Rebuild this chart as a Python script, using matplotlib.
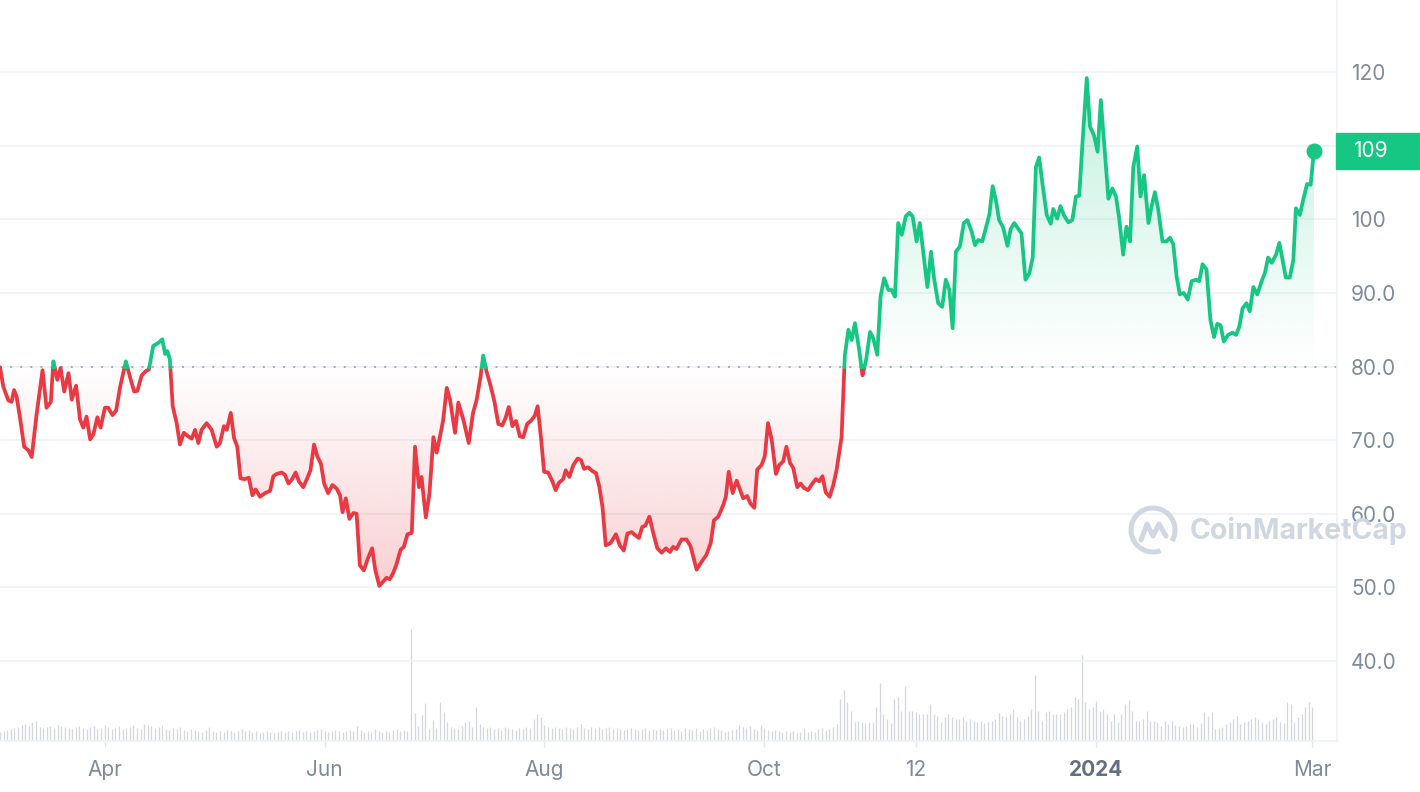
import datetime as dt
import numpy as np
import matplotlib
matplotlib.use("Agg")
from matplotlib import pyplot as plt
import matplotlib.dates as mdates
import matplotlib.colors as mcolors
import matplotlib.transforms as mtransforms
from matplotlib.patches import Rectangle, Arc
from matplotlib.path import Path

plt.rcParams['font.family'] = ['Inter', 'DejaVu Sans']

# ---------------- data ----------------
start = dt.datetime(2023, 3, 3)

# price vertices: days since start, price
day = [0.0, 0.9, 2.3, 3.2, 3.9, 4.6, 5.5, 6.7, 7.9, 8.8,
       10.2, 11.8, 12.9, 14.1, 14.8, 15.9, 16.8, 17.8, 19.0, 19.9,
       21.1, 22.2, 23.1, 24.0, 25.0, 25.9, 27.0, 27.9, 29.1, 30.0,
       31.2, 32.2, 33.3, 34.9, 36.1, 37.2, 38.1, 39.3, 40.5, 41.3,
       42.5, 43.9, 45.0, 45.8, 46.4, 47.1, 47.9, 49.0, 49.9, 51.0,
       52.2, 53.2, 54.1, 55.0, 55.9, 57.3, 58.7, 60.1, 61.0, 62.1,
       62.9, 64.0, 64.9, 65.8, 66.7, 67.9, 69.0, 70.0, 70.9, 72.1,
       73.5, 74.9, 75.8, 76.7, 78.1, 79.0, 80.0, 80.9, 82.0, 82.9,
       84.1, 85.2, 86.1, 87.1, 88.0, 89.0, 89.9, 91.0, 92.2, 93.4,
       94.3, 95.0, 95.9, 96.9, 98.0, 98.9, 99.8, 100.9, 102.0, 103.2,
       104.1, 105.2, 106.3, 107.2, 108.1, 109.1, 110.0, 111.1, 112.0, 113.0,
       114.2, 115.1, 116.2, 116.9, 118.1, 119.1, 120.2, 121.1, 122.0, 122.9,
       123.9, 124.8, 125.2, 126.2, 127.1, 128.5, 130.0, 131.2, 132.2, 133.3,
       134.0, 134.9, 136.1, 137.1, 138.2, 139.3, 140.2, 141.1, 142.1, 143.1,
       144.2, 145.1, 146.2, 147.4, 148.3, 149.1, 150.0, 150.9, 152.0, 153.2,
       154.1, 155.0, 156.2, 156.9, 157.9, 159.0, 160.2, 161.1, 162.0, 163.1,
       164.3, 165.3, 166.2, 167.1, 168.0, 169.3, 170.8, 171.9, 173.0, 174.0,
       175.2, 176.1, 177.2, 178.1, 179.0, 180.1, 181.2, 182.3, 183.5, 184.7,
       185.8, 186.7, 187.6, 189.0, 190.4, 191.5, 193.2, 194.6, 195.9, 197.1,
       198.0, 199.2, 200.6, 201.3, 202.1, 203.2, 204.3, 205.2, 206.1, 207.2,
       208.1, 209.2, 210.0, 211.2, 212.1, 213.0, 214.0, 215.2, 216.1, 217.2,
       218.1, 219.1, 220.0, 221.1, 222.0, 223.0, 224.1, 225.3, 226.3, 227.2,
       228.1, 229.0, 230.1, 231.1, 232.0, 232.7, 233.4, 234.3, 235.3, 236.2,
       237.1, 238.3, 239.2, 240.2, 241.3, 242.2, 243.3, 244.2, 245.2, 246.4,
       247.3, 248.2, 249.1, 250.1, 251.2, 252.2, 253.1, 254.2, 255.1, 256.1,
       257.2, 258.2, 259.1, 260.2, 261.3, 262.3, 263.3, 264.2, 265.1, 266.2,
       267.3, 268.3, 269.5, 270.4, 271.3, 272.4, 273.3, 274.4, 275.3, 276.2,
       277.1, 278.2, 279.4, 280.3, 281.3, 282.4, 283.3, 284.4, 285.5, 286.4,
       287.3, 288.2, 289.2, 290.3, 291.4, 292.1, 293.2, 294.1, 295.1, 296.3,
       297.4, 298.4, 299.3, 300.2, 301.4, 302.3, 303.4, 304.4, 305.3, 306.3,
       307.4, 308.5, 309.5, 310.4, 311.5, 312.4, 313.4, 314.3, 315.4, 316.3,
       317.3, 318.5, 319.4, 320.3, 321.2, 322.4, 323.5, 324.5, 325.4, 326.3,
       327.2, 328.3, 329.4, 330.5, 331.7, 332.6, 333.5, 334.6, 335.7, 336.7,
       337.6, 338.5, 339.4, 340.6, 341.8, 342.8, 343.7, 344.6, 345.7, 346.6,
       347.6, 348.7, 349.9, 350.8, 351.7, 352.7, 353.9, 354.8, 355.7, 356.6,
       357.7, 358.7, 359.4, 360.5, 361.4, 362.5, 363.5, 364.4]

price = [79.9, 77.3, 75.4, 75.2, 76.8, 75.9, 73.2, 69.1, 68.6, 67.7,
         73.7, 79.5, 74.4, 75.2, 80.7, 78.2, 79.8, 76.6, 79.1, 75.5,
         77.4, 72.8, 71.7, 73.2, 70.1, 70.8, 73.1, 71.7, 74.4, 74.4,
         73.4, 74.0, 77.2, 80.7, 78.5, 76.6, 76.7, 78.8, 79.4, 79.6,
         82.8, 83.2, 83.7, 81.7, 82.1, 81.0, 74.6, 72.3, 69.4, 71.0,
         70.5, 70.2, 71.4, 69.6, 71.4, 72.3, 71.4, 69.1, 69.6, 71.9,
         71.4, 73.7, 70.3, 69.1, 64.8, 64.7, 64.9, 62.5, 63.3, 62.3,
         62.8, 63.1, 65.1, 65.4, 65.6, 65.3, 64.1, 64.6, 65.6, 64.4,
         63.6, 64.8, 65.9, 69.4, 67.8, 66.8, 64.1, 62.8, 63.9, 63.4,
         62.5, 60.2, 62.1, 59.3, 60.1, 60.0, 53.0, 52.3, 53.9, 55.3,
         52.3, 50.2, 50.8, 51.3, 51.1, 52.0, 53.2, 55.1, 55.5, 57.2,
         57.4, 69.1, 63.6, 65.0, 59.5, 62.7, 70.4, 68.3, 70.4, 72.7,
         77.1, 75.5, 74.2, 71.0, 75.1, 72.8, 69.6, 73.7, 75.5, 78.7,
         81.5, 79.4, 77.3, 75.3, 72.2, 72.0, 73.0, 74.5, 71.9, 72.6,
         70.5, 70.4, 72.2, 72.7, 73.3, 74.6, 70.5, 65.7, 65.6, 64.4,
         63.2, 64.2, 64.7, 65.9, 65.0, 66.6, 67.5, 67.3, 66.1, 66.3,
         65.8, 65.5, 63.7, 60.9, 55.7, 56.0, 57.2, 55.7, 55.0, 57.3,
         57.5, 57.1, 56.7, 58.2, 58.4, 59.6, 57.3, 55.3, 54.7, 55.3,
         54.8, 55.5, 55.2, 56.5, 56.5, 55.6, 52.4, 53.5, 54.4, 56.0,
         59.1, 59.6, 61.2, 62.3, 65.7, 62.8, 64.5, 63.3, 62.1, 62.4,
         61.4, 60.8, 66.0, 66.6, 67.8, 72.3, 70.1, 65.4, 66.6, 67.1,
         69.1, 66.9, 66.2, 63.6, 64.1, 63.5, 63.2, 64.1, 64.7, 64.4,
         65.1, 62.9, 62.3, 63.9, 65.9, 68.2, 70.4, 81.5, 85.0, 83.6,
         85.9, 82.2, 78.8, 80.9, 84.7, 83.8, 81.6, 89.5, 92.0, 90.4,
         90.4, 89.5, 99.5, 97.9, 100.4, 100.9, 100.4, 97.0, 99.5, 95.4,
         90.8, 95.6, 91.8, 88.6, 88.1, 91.8, 90.4, 85.2, 95.6, 96.3,
         99.5, 99.9, 98.3, 96.5, 97.2, 97.0, 98.6, 100.7, 104.5, 102.6,
         99.9, 98.9, 96.4, 98.7, 99.5, 98.7, 98.1, 91.8, 92.7, 94.8,
         107.1, 108.4, 104.5, 100.6, 99.4, 101.4, 100.1, 101.8, 100.5, 99.6,
         99.9, 103.1, 103.2, 110.3, 119.2, 112.6, 111.4, 109.2, 116.2, 109.9,
         102.8, 104.2, 103.1, 100.1, 95.2, 99.0, 97.0, 107.1, 109.9, 103.1,
         106.0, 99.5, 101.8, 103.7, 101.4, 97.0, 97.0, 97.5, 96.6, 92.3,
         89.8, 90.0, 89.1, 91.6, 91.8, 91.6, 93.9, 93.2, 86.3, 84.0,
         85.8, 85.6, 83.4, 84.3, 84.6, 84.3, 85.4, 87.9, 88.6, 87.5,
         90.8, 89.8, 91.6, 92.7, 94.8, 94.1, 95.2, 96.8, 94.5, 92.1,
         92.1, 94.5, 101.5, 100.6, 102.6, 104.8, 104.7, 109.3]

# daily volume (relative units, one value per day from start)
volume = [9, 10, 11, 12, 13, 14, 16, 17, 15, 19, 20, 14, 13,
          14, 15, 13, 16, 15, 14, 13, 12, 14, 15,
          13, 12, 14, 15, 12, 13, 16, 14, 12, 13,
          15, 12, 13, 14, 16, 13, 12, 17, 16, 15,
          13, 14, 16, 12, 11, 13, 12, 14, 11, 10, 12, 11,
          10, 9, 11, 14, 10, 9, 10, 9, 11, 10,
          9, 10, 12, 10, 11, 9, 10, 8, 9, 10,
          9, 8, 9, 10, 9, 10, 9, 10, 11, 9,
          10, 9, 10, 11, 12, 10, 9, 10, 11, 10,
          9, 10, 11, 10, 15, 11, 9, 10, 9, 12,
          10, 9, 10, 9, 11, 12, 10, 11, 10,
          112,
          28, 15, 26, 38, 12, 21, 13, 39, 29, 19,
          14, 13, 12, 15, 19, 20, 14, 34, 17, 14,
          13, 14, 12, 13, 11, 14, 13, 12, 11, 13,
          12, 14, 13, 22, 27, 24, 16, 14, 13, 14,
          13, 12, 14, 13, 12, 14, 17, 13, 12, 14,
          13, 14, 12, 13, 14, 12, 13, 12, 11, 12,
          13, 12, 11, 12, 13, 11, 12, 11, 12, 11,
          12, 13, 11, 12, 10, 13, 12, 11, 13,
          10, 12, 11, 13, 14, 12, 11, 9, 10, 11,
          12, 16, 14, 13, 15, 12, 11, 16, 13, 11,
          10, 11, 10, 9, 10, 9, 10, 8, 9, 13,
          9, 10, 9, 12, 13, 11, 12, 14, 17,
          42, 51, 39, 30, 19, 20, 19, 18, 19, 19,
          34, 58, 27, 22, 18, 42, 44, 30, 55, 30,
          30, 29, 27, 27, 27, 37, 27, 25, 19, 24,
          27, 24, 22, 22, 24, 20, 22, 20, 19, 20,
          18, 19, 20, 22, 28, 25, 24, 27, 32, 24,
          20, 22, 25, 32, 66, 30, 20, 29, 30, 27,
          27, 27, 29, 32, 34, 44, 42, 86, 39, 32,
          34, 40, 30, 32, 27, 20, 27, 19, 27, 37,
          41, 30, 20, 20, 22, 30, 20, 20, 19, 15,
          20, 17, 20, 16, 15, 14, 15, 17, 17, 14,
          18, 29, 25, 29, 12, 13, 14, 17, 19, 22,
          25, 17, 19, 20, 22, 24, 22, 19, 17, 20,
          22, 24, 19, 18, 39, 37, 19, 24, 27, 34,
          39, 34]

tick_dates = [dt.datetime(2023, 4, 1), dt.datetime(2023, 6, 1), dt.datetime(2023, 8, 1),
              dt.datetime(2023, 10, 1), dt.datetime(2023, 11, 12), dt.datetime(2024, 1, 1),
              dt.datetime(2024, 3, 1)]
tick_labels = ['Apr', 'Jun', 'Aug', 'Oct', '12', '2024', 'Mar']
ytick_vals = [40, 50, 60, 70, 80, 90, 100, 110, 120]
ytick_labels = ['40.0', '50.0', '60.0', '70.0', '80.0', '90.0', '100', '', '120']

GREEN = '#16c784'
RED = '#ea3943'
GRAY = '#808a9d'
GRID = '#eff2f5'

base = price[0]
t0 = mdates.date2num(start)

# insert the baseline crossings so the line can switch colour there
x = np.array(day)
y = np.array(price)
xs, ys = [x[0]], [y[0]]
for i in range(1, len(x)):
    if (y[i - 1] - base) * (y[i] - base) < 0:
        t = (base - y[i - 1]) / (y[i] - y[i - 1])
        xs.append(x[i - 1] + t * (x[i] - x[i - 1]))
        ys.append(base)
    xs.append(x[i])
    ys.append(y[i])
xs = t0 + np.array(xs)
ys = np.array(ys)

fig = plt.figure(figsize=(14.2, 7.92), dpi=100)
rect = [0, 51 / 792, 1337 / 1420, 741 / 792]
xlim = (t0, t0 + 370.8)

# volume in the back
axv = fig.add_axes(rect, zorder=0)
vd = t0 + np.arange(len(volume))
axv.vlines(vd, 0, volume, color='#d3d6dc', lw=0.9)
axv.set_xlim(xlim)
axv.set_ylim(0, 741)
axv.axis('off')

ax = fig.add_axes(rect, zorder=1)
ax.patch.set_alpha(0)
ax.set_xlim(xlim)
ax.set_ylim(29.12, 129.8)

for v in ytick_vals:
    ax.axhline(v, color=GRID, lw=1.2, zorder=0)
ax.axhline(base, color='#a3abb9', lw=1.4, ls=(0, (1, 4.2)), zorder=1)


def gradient_fill(where, lo, hi, color, a_lo, a_hi):
    coll = ax.fill_between(xs, ys, base, where=where, interpolate=True,
                           facecolor='none', edgecolor='none')
    clip = Path.make_compound_path(*coll.get_paths())
    img = np.zeros((256, 1, 4))
    img[..., :3] = mcolors.to_rgb(color)
    img[:, 0, 3] = np.linspace(a_lo, a_hi, 256)
    im = ax.imshow(img, extent=[xs.min(), xs.max(), lo, hi], origin='lower',
                   aspect='auto', zorder=1, interpolation='bilinear')
    im.set_clip_path(clip, transform=ax.transData)


gradient_fill(ys <= base, ys.min(), base, RED, 0.24, 0.0)
gradient_fill(ys >= base, base, ys.max(), GREEN, 0.0, 0.26)

up = np.where(ys >= base, ys, np.nan)
down = np.where(ys <= base, ys, np.nan)
ax.plot(xs, down, color=RED, lw=2.7, solid_joinstyle='round', solid_capstyle='round', zorder=3)
ax.plot(xs, up, color=GREEN, lw=2.7, solid_joinstyle='round', solid_capstyle='round', zorder=3)
ax.plot(xs[-1], ys[-1], 'o', color=GREEN, ms=10.5, zorder=4)

ax.set_xlim(xlim)
ax.set_ylim(29.12, 129.8)

# axes styling
for s in ['left', 'top']:
    ax.spines[s].set_visible(False)
ax.spines['right'].set_color(GRID)
ax.spines['right'].set_linewidth(1.2)
ax.spines['bottom'].set_color(GRID)
ax.spines['bottom'].set_linewidth(1.2)

ax.yaxis.tick_right()
ax.set_yticks(ytick_vals)
ax.set_yticklabels(ytick_labels)
ax.tick_params(axis='y', length=0, pad=10, labelsize=15, labelcolor=GRAY)

ax.set_xticks([mdates.date2num(d) for d in tick_dates])
ax.set_xticklabels(tick_labels)
ax.tick_params(axis='x', length=4, width=1, color='#e3e6eb', pad=10,
               labelsize=15, labelcolor=GRAY)
for lab in ax.get_xticklabels():
    if lab.get_text() == '2024':
        lab.set_fontweight('bold')
        lab.set_color('#646f83')

# current price tag
trans = mtransforms.blended_transform_factory(fig.transFigure, ax.transData)
tag_h = 36 / 7.36
ax.add_patch(Rectangle((1336 / 1420, price[-1] - tag_h / 2), 84 / 1420, tag_h,
                       transform=trans, color=GREEN, clip_on=False, zorder=5))
ax.text(1353 / 1420, price[-1], f"{price[-1]:.0f}", transform=trans, color='white',
        fontsize=15, va='center', ha='left', zorder=6)

# watermark
ov = fig.add_axes([0, 0, 1, 1], zorder=5)
ov.set_xlim(0, 1420)
ov.set_ylim(792, 0)
ov.axis('off')
wm = '#d0d6e2'
ov.add_patch(Arc((1153, 530), 44, 44, theta1=70, theta2=390, color=wm, lw=3.6))
ov.plot([1141, 1147, 1153, 1159, 1166], [540, 524, 536, 524, 536], color=wm, lw=3.6,
        solid_capstyle='round', solid_joinstyle='round')
ov.text(1190, 531, 'CoinMarketCap', color=wm, fontsize=20.5, fontweight='bold',
        va='center', ha='left')

fig.savefig('out.png', dpi=100)
